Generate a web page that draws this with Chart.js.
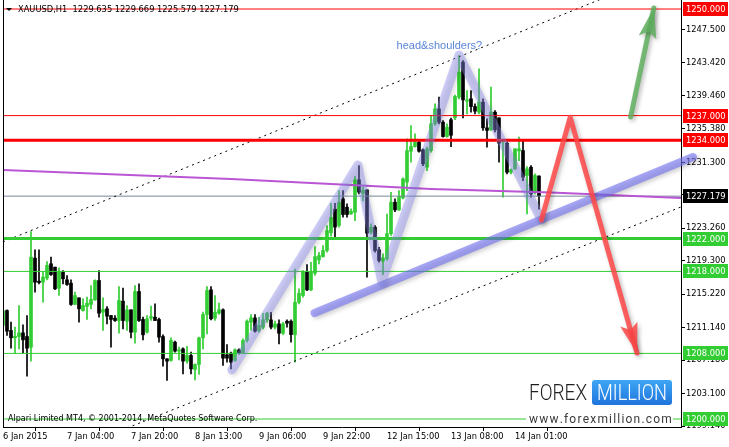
<!DOCTYPE html>
<html>
<head>
<meta charset="utf-8">
<script src="https://cdn.jsdelivr.net/npm/chart.js"></script>
<style>
  html, body { margin: 0; padding: 0; background: #fff; }
</style>
</head>
<body>
<canvas id="chart" width="729" height="447"></canvas>
<script>
// XAUUSD H1 candles (bar 0 = 6 Jan 2015)
const opens = [1211.40,1213.23,1210.80,1209.90,1210.06,1210.51,1210.06,1208.76,1219.62,1216.81,
  1216.69,1217.18,1218.93,1218.52,1215.96,1217.91,1216.97,1216.57,1213.97,1214.78,
  1213.23,1213.72,1213.97,1214.54,1216.89,1213.03,1213.44,1212.62,1212.30,1212.01,
  1214.37,1211.93,1213.32,1210.59,1215.55,1212.14,1210.59,1212.30,1212.42,1212.14,
  1210.06,1207.34,1207.14,1209.37,1208.28,1208.56,1207.06,1207.75,1206.04,1206.65,
  1209.90,1212.75,1215.75,1212.30,1212.91,1213.32,1207.83,1208.03,1207.14,1208.43,
  1208.10,1209.57,1211.80,1212.33,1210.79,1211.20,1212.09,1212.09,1211.20,1211.60,
  1210.46,1211.93,1211.93,1210.30,1214.24,1215.06,1217.90,1215.75,1217.78,1219.40,
  1219.81,1220.55,1222.70,1225.60,1223.60,1226.85,1225.83,1225.02,1225.22,1229.17,
  1227.50,1227.94,1222.78,1223.39,1220.63,1219.25,1219.53,1222.60,1226.44,1225.50,
  1226.97,1228.90,1232.66,1233.23,1233.76,1232.82,1230.71,1232.74,1236.00,1237.82,
  1236.20,1234.45,1236.50,1236.73,1239.25,1243.52,1238.76,1239.05,1238.11,1237.42,
  1238.64,1235.51,1235.27,1237.42,1236.73,1233.80,1233.64,1230.10,1230.51,1232.70,
  1232.74,1229.70,1230.71,1227.66,1229.635];
const highs = [1214.25,1213.32,1211.81,1211.20,1213.84,1211.49,1212.62,1222.87,1220.63,1220.63,
  1217.99,1219.21,1219.74,1218.52,1218.44,1218.11,1217.50,1216.97,1215.47,1214.78,
  1214.66,1214.86,1216.28,1216.97,1218.11,1214.78,1213.72,1212.62,1212.62,1216.16,
  1215.96,1213.84,1213.32,1216.28,1216.49,1212.42,1212.62,1213.76,1214.05,1212.30,
  1210.27,1207.34,1209.90,1209.49,1208.76,1208.68,1208.85,1208.15,1206.73,1209.98,
  1213.03,1216.16,1216.16,1215.06,1214.13,1213.44,1209.09,1208.15,1208.56,1208.55,
  1209.77,1212.09,1212.74,1212.74,1212.40,1212.90,1213.00,1213.00,1211.93,1212.09,
  1211.80,1212.09,1212.09,1218.30,1215.87,1218.10,1218.84,1219.12,1221.03,1220.34,
  1221.15,1223.59,1226.30,1226.30,1227.86,1227.86,1226.24,1225.63,1229.60,1230.91,
  1228.30,1227.94,1223.80,1223.60,1220.95,1220.14,1225.00,1227.66,1226.85,1227.86,
  1229.41,1234.17,1235.79,1234.78,1233.96,1232.94,1233.15,1237.01,1238.43,1239.25,
  1236.40,1236.00,1236.70,1239.50,1244.33,1243.72,1240.06,1240.06,1238.43,1242.70,
  1239.05,1236.60,1240.47,1237.62,1236.73,1234.00,1233.76,1230.50,1232.95,1234.37,
  1233.96,1230.80,1230.91,1229.90,1229.669];
const lows = [1210.39,1210.19,1208.64,1208.03,1208.56,1208.03,1205.23,1207.06,1215.47,1216.49,
  1214.25,1216.97,1217.50,1215.76,1215.06,1216.49,1216.28,1213.84,1213.93,1211.81,
  1213.15,1212.14,1213.44,1214.45,1212.42,1210.80,1211.61,1208.76,1211.90,1210.47,
  1211.00,1210.80,1209.90,1209.25,1211.89,1209.66,1210.47,1212.01,1212.01,1209.37,
  1206.45,1204.70,1207.06,1208.15,1207.22,1205.51,1206.81,1205.51,1204.78,1205.43,
  1208.56,1210.39,1212.10,1212.01,1212.75,1206.53,1206.93,1206.12,1207.02,1207.90,
  1208.00,1209.37,1210.80,1210.59,1210.59,1211.00,1211.80,1211.00,1211.00,1209.16,
  1210.30,1211.20,1209.37,1206.93,1214.04,1214.85,1215.66,1215.66,1217.50,1218.92,
  1219.73,1220.34,1222.30,1222.10,1223.39,1224.61,1224.61,1224.94,1224.20,1227.46,
  1226.60,1217.30,1222.58,1220.34,1219.13,1217.60,1219.33,1222.40,1225.30,1225.43,
  1226.85,1227.86,1231.32,1233.15,1232.54,1230.91,1230.30,1232.54,1235.79,1236.00,
  1234.37,1234.37,1233.20,1236.50,1239.05,1236.73,1237.22,1237.42,1237.22,1237.22,
  1235.20,1233.15,1235.19,1235.00,1231.32,1227.05,1229.90,1229.90,1230.43,1231.50,
  1229.08,1225.02,1227.05,1227.46,1225.579];
const closes = [1213.23,1210.71,1209.90,1210.10,1210.51,1209.66,1208.64,1219.74,1216.69,1216.65,
  1217.30,1218.72,1217.62,1215.88,1217.91,1217.10,1216.41,1213.97,1215.06,1213.44,
  1213.84,1214.13,1214.58,1216.89,1212.91,1213.36,1212.54,1212.14,1212.01,1214.45,
  1212.01,1213.32,1210.59,1215.55,1212.01,1210.27,1212.22,1212.50,1212.01,1209.98,
  1207.34,1207.06,1209.58,1208.28,1208.44,1207.06,1207.75,1206.12,1206.65,1209.90,
  1212.75,1215.67,1212.22,1213.03,1213.32,1207.42,1207.42,1206.93,1208.44,1208.02,
  1209.57,1211.93,1212.33,1210.71,1211.40,1212.09,1212.90,1211.20,1211.60,1210.46,
  1211.60,1211.68,1210.30,1214.24,1215.34,1217.90,1215.75,1217.90,1219.81,1219.93,
  1220.55,1222.98,1224.60,1223.40,1226.44,1224.94,1224.94,1225.35,1229.17,1227.66,
  1227.90,1222.66,1223.39,1220.55,1219.33,1219.65,1222.60,1226.44,1225.50,1227.13,
  1229.29,1232.74,1233.23,1233.76,1232.66,1231.12,1232.94,1236.00,1237.82,1236.20,
  1234.45,1235.59,1234.60,1239.33,1242.30,1238.92,1238.92,1238.11,1237.54,1238.64,
  1235.51,1235.20,1237.42,1235.27,1233.64,1234.00,1230.10,1230.40,1232.95,1232.95,
  1229.49,1230.51,1227.46,1229.70,1227.179];

const dateTickBars = [0, 16, 32, 48, 64, 80, 96, 112, 128];
const dateLabels = ['6 Jan 2015', '7 Jan 04:00', '7 Jan 20:00', '8 Jan 13:00', '9 Jan 06:00',
  '9 Jan 22:00', '12 Jan 15:00', '13 Jan 08:00', '14 Jan 01:00'];
const priceTicks = [1247.5, 1243.42, 1239.46, 1235.38, 1231.3, 1227.34, 1223.26, 1219.3,
  1215.22, 1211.14, 1207.18, 1203.1, 1199.14];

// horizontal levels
const resistLevels = [1250, 1237, 1234];
const supportLevels = [1222, 1218, 1208, 1200];
const lastPrice = 1227.179;

// moving average, read at a few bars
const maBars = [0, 57, 82, 107, 137, 169.5];
const maValues = [1230.37, 1229.27, 1228.66, 1228.05, 1227.62, 1226.95];

// drawn objects (bar index, price)
const shoulderBars = [57.2, 88.7, 94.7, 114.0, 134.6];
const shoulderPrices = [1205.98, 1230.98, 1216.71, 1244.39, 1224.27];
const neckBars = [77.9, 172.5];
const neckPrices = [1212.93, 1231.95];
const redArrowBars = [134.6, 141.8, 158.5];
const redArrowPrices = [1224.27, 1236.8, 1208.05];
const greenArrowBars = [156.9, 162.7];
const greenArrowPrices = [1236.83, 1250.12];
const chanTopBars = [0, 152];
const chanTopPrices = [1221.6, 1251.7];
const chanLowBars = [31, 169.5];
const chanLowPrices = [1198.9, 1225.86];

const FONT = 'DejaVu Sans, Verdana, sans-serif';
const UP = '#32CD32';
const DOWN = '#000000';

function pts(xs, ys) {
  return xs.map((x, i) => ({ x: x, y: ys[i] }));
}

function hline(v, color, width, order) {
  return {
    type: 'line',
    data: [{ x: 0, y: v }, { x: 169.5, y: v }],
    borderColor: color,
    borderWidth: width,
    pointRadius: 0,
    order: order,
  };
}

const candleColors = opens.map((o, i) => (closes[i] >= o ? UP : DOWN));

const wickData = opens.map((o, i) => ({ x: i, y: [lows[i], highs[i]] }));
const bodyData = opens.map((o, i) => ({ x: i, y: [o, closes[i]] }));

let datasets = [
  {
    type: 'bar',
    data: wickData,
    backgroundColor: candleColors,
    barThickness: 1,
    grouped: false,
    order: 11,
  },
  {
    type: 'bar',
    data: bodyData,
    backgroundColor: candleColors,
    barThickness: 3,
    minBarLength: 1,
    grouped: false,
    order: 10,
  },
];

resistLevels.forEach((v) => datasets.push(hline(v, '#FF0000', v === 1234 ? 3 : 1, 5)));
supportLevels.forEach((v) => datasets.push(hline(v, UP, v === 1222 ? 3 : 1, 5)));
datasets.push(hline(lastPrice, '#778899', 1, 6));

datasets.push({
  type: 'line',
  data: pts(maBars, maValues),
  borderColor: '#BA55D3',
  borderWidth: 2,
  pointRadius: 0,
  order: 5,
});
datasets.push({
  type: 'line',
  data: pts(chanTopBars, chanTopPrices),
  borderColor: '#000',
  borderWidth: 1,
  borderDash: [2, 4],
  pointRadius: 0,
  order: 5,
});
datasets.push({
  type: 'line',
  data: pts(chanLowBars, chanLowPrices),
  borderColor: '#000',
  borderWidth: 1,
  borderDash: [2, 4],
  pointRadius: 0,
  order: 5,
});
datasets.push({
  type: 'line',
  data: pts(shoulderBars, shoulderPrices),
  borderColor: 'rgba(135,135,235,0.42)',
  borderWidth: 9,
  borderCapStyle: 'round',
  borderJoinStyle: 'round',
  pointRadius: 0,
  shadow: true,
  order: 2,
});
datasets.push({
  type: 'line',
  data: pts(neckBars, neckPrices),
  borderColor: 'rgba(110,110,240,0.6)',
  borderWidth: 8,
  borderCapStyle: 'round',
  pointRadius: 0,
  shadow: true,
  clip: false,
  order: 2,
});
datasets.push({
  type: 'line',
  data: pts(redArrowBars, redArrowPrices),
  borderColor: 'rgba(255,70,70,0.85)',
  borderWidth: 5,
  borderCapStyle: 'round',
  borderJoinStyle: 'round',
  pointRadius: 0,
  shadow: true,
  arrow: true,
  clip: false,
  order: 1,
});
datasets.push({
  type: 'line',
  data: pts(greenArrowBars, greenArrowPrices),
  borderColor: 'rgba(95,175,95,0.85)',
  borderWidth: 5,
  borderCapStyle: 'round',
  pointRadius: 0,
  shadow: true,
  arrow: true,
  clip: false,
  order: 1,
});

const shadowPlugin = {
  id: 'shadow',
  beforeDatasetDraw(chart, args) {
    const ds = chart.data.datasets[args.index];
    if (!ds.shadow) return;
    const c = chart.ctx;
    c.save();
    c.shadowColor = 'rgba(0,0,0,0.3)';
    c.shadowBlur = 4;
    c.shadowOffsetX = 2;
    c.shadowOffsetY = 2;
  },
  afterDatasetDraw(chart, args) {
    const ds = chart.data.datasets[args.index];
    if (ds.shadow) chart.ctx.restore();
  },
  afterDatasetsDraw(chart) {
    const c = chart.ctx;
    chart.data.datasets.forEach((ds, i) => {
      if (!ds.arrow) return;
      const pts = chart.getDatasetMeta(i).data;
      const a = pts[pts.length - 2], b = pts[pts.length - 1];
      const ang = Math.atan2(b.y - a.y, b.x - a.x);
      const len = 30, half = 9;
      c.save();
      c.shadowColor = 'rgba(0,0,0,0.3)';
      c.shadowBlur = 4;
      c.shadowOffsetX = 2;
      c.shadowOffsetY = 2;
      c.translate(b.x, b.y);
      c.rotate(ang);
      c.fillStyle = ds.borderColor;
      c.beginPath();
      c.moveTo(0, 0);
      c.lineTo(-len, -half);
      c.lineTo(-len + 6, 0);
      c.lineTo(-len, half);
      c.closePath();
      c.fill();
      c.restore();
    });
  },
};

function spacedText(c, text, x, y, width) {
  const raw = c.measureText(text).width;
  const gap = (width - raw) / (text.length - 1);
  let px = x;
  for (const ch of text) {
    c.fillText(ch, px, y);
    px += c.measureText(ch).width + gap;
  }
}

function fitText(c, text, x, y, width) {
  const w = c.measureText(text).width;
  c.save();
  c.translate(x, y);
  c.scale(width / w, 1);
  c.fillText(text, 0, 0);
  c.restore();
}

const decorPlugin = {
  id: 'decor',
  afterDraw(chart) {
    const c = chart.ctx;
    const area = chart.chartArea;
    const ys = chart.scales.y;
    const xs = chart.scales.x;
    c.save();

    // frame
    c.strokeStyle = '#000';
    c.lineWidth = 1;
    c.beginPath();
    c.moveTo(area.left + 0.5, 0);
    c.lineTo(area.left + 0.5, area.bottom + 0.5);
    c.stroke();

    // title
    c.fillStyle = '#000';
    c.beginPath();
    c.moveTo(6, 8);
    c.lineTo(12, 8);
    c.lineTo(9, 11);
    c.closePath();
    c.fill();
    c.font = '8.3px ' + FONT;
    c.textBaseline = 'middle';
    c.textAlign = 'left';
    c.fillText('XAUUSD,H1  1229.635 1229.669 1225.579 1227.179', 18, 9.5);
    c.font = '8px ' + FONT;
    c.fillText('Alpari Limited MT4, \u00a9 2001-2014, MetaQuotes Software Corp.', 8, 418.5);

    // annotation text
    c.fillStyle = '#5a84d8';
    c.font = '11px Liberation Sans, Arial, sans-serif';
    c.fillText('head&shoulders?', xs.getPixelForValue(98.4), ys.getPixelForValue(1245.49));

    // price boxes on the axis
    const boxes = [];
    resistLevels.forEach((v) => boxes.push([v, '#FF0000']));
    boxes.push([lastPrice, '#000000']);
    supportLevels.forEach((v) => boxes.push([v, UP]));
    c.font = '8.3px ' + FONT;
    boxes.forEach(([v, col]) => {
      const y = Math.round(ys.getPixelForValue(v));
      c.fillStyle = col;
      c.fillRect(area.right + 2, y - 7, 45, 14);
      c.fillStyle = '#fff';
      c.fillText(v.toFixed(3), area.right + 5, y + 0.5);
    });

    // watermark
    c.fillStyle = '#fff';
    c.fillRect(526, 412, 147, 12);
    c.fillStyle = '#1f1f1f';
    c.textBaseline = 'alphabetic';
    c.font = '300 22.5px Roboto';
    fitText(c, 'FOREX', 529, 399.5, 58);
    const g = c.createLinearGradient(0, 380, 0, 405);
    g.addColorStop(0, '#3ea6f5');
    g.addColorStop(1, '#1f74dc');
    c.fillStyle = g;
    c.beginPath();
    c.roundRect(592, 380, 80, 25, 3);
    c.fill();
    c.fillStyle = '#fff';
    fitText(c, 'MILLION', 597, 399.5, 70);
    c.fillStyle = '#3a3a3a';
    c.font = '12px Roboto';
    spacedText(c, 'www.forexmillion.com', 529, 422.5, 142);
    c.restore();
  },
};

function noPad(s) {
  s.paddingTop = 0;
  s.paddingBottom = 0;
  s.paddingLeft = 0;
  s.paddingRight = 0;
}

const chart = new Chart(document.getElementById('chart'), {
  data: { datasets: datasets },
  options: {
    responsive: false,
    animation: false,
    layout: { padding: { left: 3, top: 0, right: 0, bottom: 0 } },
    plugins: { legend: { display: false }, tooltip: { enabled: false } },
    scales: {
      x: {
        type: 'linear',
        min: 0,
        max: 169.5,
        offset: false,
        afterBuildTicks: (s) => { s.ticks = dateTickBars.map((v) => ({ value: v })); },
        afterFit: (s) => { s.height = 20; noPad(s); },
        ticks: {
          callback: (v) => dateLabels[dateTickBars.indexOf(v)],
          align: 'start',
          autoSkip: false,
          maxRotation: 0,
          padding: 1,
          labelOffset: 0,
          color: '#000',
          font: { family: FONT, size: 8.3 },
        },
        grid: { drawOnChartArea: false, tickLength: 4, color: '#000' },
        border: { color: '#000' },
      },
      y: {
        type: 'linear',
        position: 'right',
        min: 1251.1 - 427 / 8.2,
        max: 1251.1,
        afterBuildTicks: (s) => { s.ticks = priceTicks.map((v) => ({ value: v })); },
        afterFit: (s) => { s.width = 48; noPad(s); },
        ticks: {
          callback: (v) => v.toFixed(3),
          autoSkip: false,
          padding: 1,
          color: '#000',
          font: { family: FONT, size: 8.3 },
        },
        grid: { drawOnChartArea: false, tickLength: 4, color: '#000' },
        border: { color: '#000' },
      },
    },
  },
  plugins: [shadowPlugin, decorPlugin],
});
</script>
</body>
</html>
